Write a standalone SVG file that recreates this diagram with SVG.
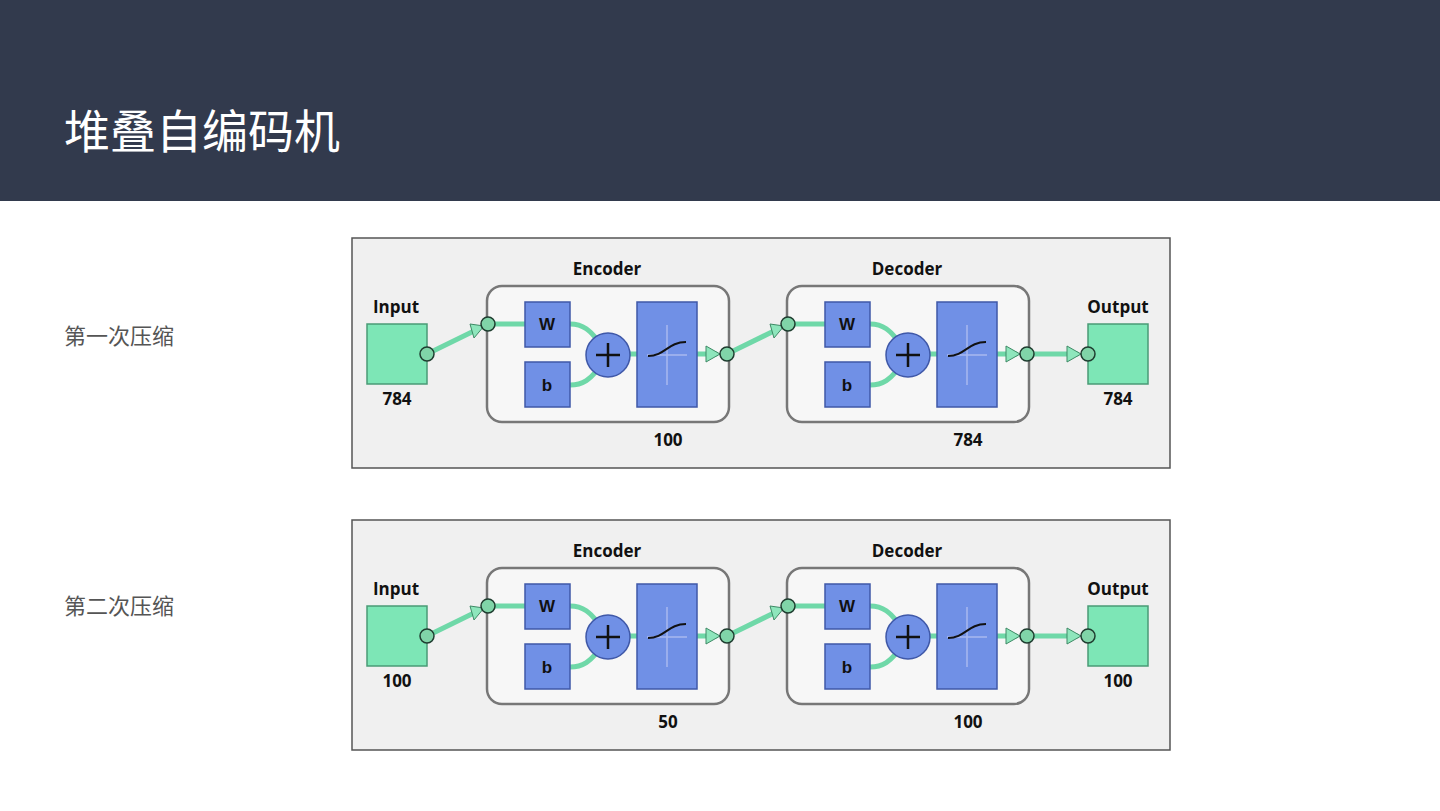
<svg xmlns="http://www.w3.org/2000/svg" width="1440" height="811" viewBox="0 0 1440 811">
<style>
.t{font-family:"Open Sans","Liberation Sans",sans-serif;font-weight:bold;font-size:17px;fill:#111;text-anchor:middle}
.cjk{font-family:"Noto Sans CJK SC",sans-serif}
.g{fill:#7de6b6;stroke:#4a9a76;stroke-width:1.5}
.bl{fill:#7090e6;stroke:#3f58a8;stroke-width:1.5}
.ln{stroke:#6fd8a8;stroke-width:5;fill:none;stroke-linecap:round}
.dot{fill:#80d4a8;stroke:#1f3d30;stroke-width:1.5}
.ah{fill:#8ee6bc;stroke:#3f8a66;stroke-width:1}
.box{fill:#f7f7f7;stroke:#777;stroke-width:2.5}
</style>
<defs>
<g id="net">
<rect x="352" y="238" width="818" height="230" fill="#f0f0f0" stroke="#555" stroke-width="1.5"/>
<g id="boxes">
<rect class="box" x="487" y="286" width="242" height="136" rx="15"/>
<rect class="box" x="787" y="286" width="242" height="136" rx="15"/>
</g>
<g id="connectors">
<path class="ln" d="M427 354 L476 330 M488 324 L525 324 M570 324 C590 324 595 340 600 342 M570 385 C590 385 595 370 600 368 M630 354 L637 354 M697 354 L716 354 M727 354 L776 330 M788 324 L825 324 M870 324 C890 324 895 340 900 342 M870 385 C890 385 895 370 900 368 M930 354 L937 354 M997 354 L1016 354 M1027 354 L1077 354"/>
<polygon class="ah" points="470,324 484,326 474,338"/>
<polygon class="ah" points="770,324 784,326 774,338"/>
<polygon class="ah" points="706,346 720,354 706,362"/>
<polygon class="ah" points="1006,346 1020,354 1006,362"/>
<polygon class="ah" points="1067,346 1081,354 1067,362"/>
</g>
<g id="input"><rect class="g" x="367" y="324" width="60" height="60"/></g>
<g id="output"><rect class="g" x="1088" y="324" width="60" height="60"/></g>
<g id="enc">
<rect class="bl" x="525" y="302" width="45" height="45"/>
<rect class="bl" x="525" y="362" width="45" height="45"/>
<circle class="bl" cx="608" cy="355" r="22" stroke="#1d2d5a"/>
<path d="M596 355 H620 M608 343 V367" stroke="#111" stroke-width="2.5"/>
<rect class="bl" x="637" y="302" width="60" height="105"/>
<path d="M667 325 V385 M647 355 H687" stroke="#a8b8f0" stroke-width="1.5"/>
<path d="M648 356 C665 356 668 342 686 342" stroke="#111" stroke-width="2" fill="none"/>
</g>
<use href="#enc" x="300"/>
<g fill="#111" font-family="Liberation Sans,sans-serif" font-weight="bold" font-size="17" text-anchor="middle">
<text x="547" y="330">W</text><text x="547" y="391">b</text>
<text x="847" y="330">W</text><text x="847" y="391">b</text>
</g>
<g>
<circle class="dot" cx="427" cy="354" r="7"/><circle class="dot" cx="488" cy="324" r="7"/>
<circle class="dot" cx="727" cy="354" r="7"/><circle class="dot" cx="788" cy="324" r="7"/>
<circle class="dot" cx="1027" cy="354" r="7"/><circle class="dot" cx="1088" cy="354" r="7"/>
</g>
<text class="t" x="607" y="275">Encoder</text>
<text class="t" x="907" y="275">Decoder</text>
<text class="t" x="396" y="313">Input</text>
<text class="t" x="1118" y="313">Output</text>
</g>
</defs>
<rect width="1440" height="811" fill="#fff"/>
<rect width="1440" height="201" fill="#323a4d"/>
<text x="64" y="148" class="cjk" font-size="46" fill="#fff">堆叠自编码机</text>
<text x="64" y="344" class="cjk" font-size="22" fill="#555">第一次压缩</text>
<text x="64" y="614" class="cjk" font-size="22" fill="#555">第二次压缩</text>
<g id="panel1">
<use href="#net"/>
<text class="t" x="397" y="405">784</text>
<text class="t" x="1118" y="405">784</text>
<text class="t" x="668" y="446">100</text>
<text class="t" x="968" y="446">784</text>
</g>
<g id="panel2" transform="translate(0,282)">
<use href="#net"/>
<text class="t" x="397" y="405">100</text>
<text class="t" x="1118" y="405">100</text>
<text class="t" x="668" y="446">50</text>
<text class="t" x="968" y="446">100</text>
</g>
</svg>
